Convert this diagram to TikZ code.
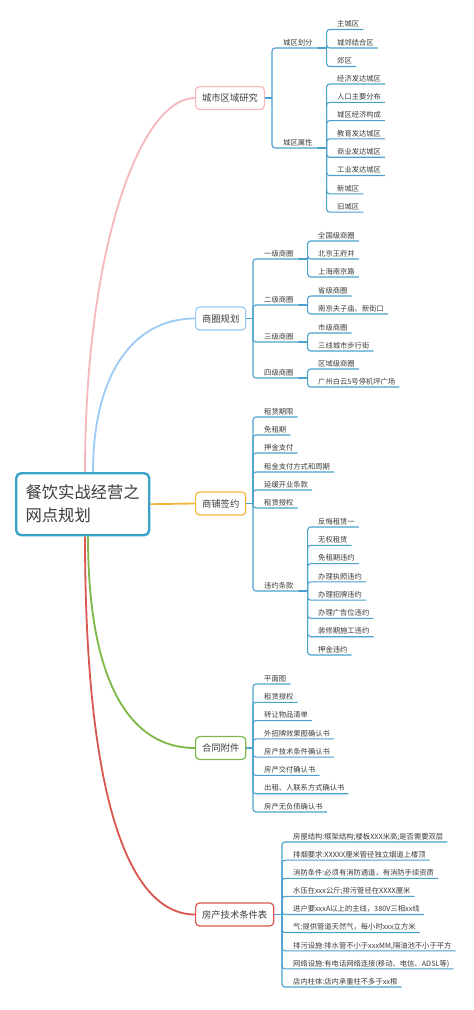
\documentclass[tikz,border=0pt]{standalone}
\usepackage{fontspec}
\setmainfont{Noto Sans CJK SC}
\usetikzlibrary{backgrounds}

\definecolor{rootc}{HTML}{3AA3C8}
\definecolor{cityc}{HTML}{F6B8BD}
\definecolor{circc}{HTML}{9CCBF5}
\definecolor{leasec}{HTML}{F4B63A}
\definecolor{annexc}{HTML}{7DB846}
\definecolor{specc}{HTML}{D9574E}
\definecolor{linkblue}{HTML}{4BA2CE}
\definecolor{txtgray}{HTML}{3C3C3C}

\tikzset{
  leaf/.style={anchor=south west, inner xsep=4pt, inner ysep=2pt, text height=6pt,
    text depth=0.6pt, font=\fontsize{7.3}{8}\selectfont, text=txtgray},
  topic/.style={draw=#1, rounded corners=4pt, line width=1.2pt, fill=white, anchor=west,
    inner xsep=6.5pt, minimum height=23pt, font=\fontsize{9.3}{11}\selectfont, text=txtgray},
  link/.style={draw=linkblue, line width=1.1pt, rounded corners=3pt},
  branch/.style={draw=#1, line width=1.8pt}
}

\begin{document}
\begin{tikzpicture}[x=1pt,y=-1pt]
\useasboundingbox (0,0) rectangle (474,1010);

% ROOT
  \node[draw=rootc, line width=2.4pt, rounded corners=5pt, fill=white, anchor=north west,
    minimum width=133pt, minimum height=62pt, align=left, inner xsep=8pt,
    font=\fontsize{16.3}{23}\selectfont, text=txtgray] (root) at (15,472) {餐饮实战经营之\\网点规划};

% MAIN TOPICS
  \node[topic=cityc]  (city)  at (195,98)    {城市区域研究};
  \node[topic=circc]  (circ)  at (195,318.5) {商圈规划};
  \node[topic=leasec] (lease) at (195,503.5) {商铺签约};
  \node[topic=annexc] (annex) at (195,748)   {合同附件};
  \node[topic=specc]  (spec)  at (195,914.5) {房产技术条件表};

% BRANCHES
\begin{scope}[on background layer]
  \fill[white] (0,0) rectangle (474,1010);
  \draw[branch=cityc]  ([xshift=70pt]root.north west) .. controls +(0,-223) and +(-55,0) .. (city.west);
  \draw[branch=circc]  ([xshift=78pt]root.north west) .. controls +(0,-93) and +(-65,0) .. (circ.west);
  \draw[branch=leasec] (root.east) -- (lease.west);
  \draw[branch=annexc] ([xshift=73pt]root.south west) .. controls +(0,146) and +(-65,0) .. (annex.west);
  \draw[branch=specc]  ([xshift=70pt]root.south west) .. controls +(0,266) and +(-65,0) .. (spec.west);
\end{scope}

% 城市区域研究
  \coordinate (jcity) at (272,98);
  \draw[link] (city.east) -- (jcity);
  \node[leaf] (div)  at (279,48)  {城区划分};
  \node[leaf] (attr) at (279,148) {城区属性};
  \foreach \n in {div,attr} \draw[link] (jcity) |- (\n.south east);

  \coordinate (jdiv) at ([xshift=10pt]div.south east);
  \draw[link] (div.south east) -- (jdiv);
  \foreach \y/\t [count=\i] in {29.5/主城区, 48/城郊结合区, 66.5/郊区}{
    \node[leaf] (div\i) at (333,\y) {\t};
    \draw[link] (jdiv) |- (div\i.south east);
  }

  \coordinate (jattr) at ([xshift=10pt]attr.south east);
  \draw[link] (attr.south east) -- (jattr);
  \foreach \y/\t [count=\i] in {84/经济发达城区, 102.3/人口主要分布, 120.6/城区经济构成, 138.9/教育发达城区,
      157.2/商业发达城区, 175.5/工业发达城区, 193.8/新城区, 212.1/旧城区}{
    \node[leaf] (attr\i) at (333,\y) {\t};
    \draw[link] (jattr) |- (attr\i.south east);
  }

% 商圈规划
  \coordinate (jcirc) at (253,318.5);
  \draw[link] (circ.east) -- (jcirc);
  \foreach \y/\t [count=\i] in {259/一级商圈, 305/二级商圈, 342/三级商圈, 378/四级商圈}{
    \node[leaf] (lv\i) at (260,\y) {\t};
    \draw[link] (jcirc) |- (lv\i.south east);
    \coordinate (jlv\i) at ([xshift=10pt]lv\i.south east);
    \draw[link] (lv\i.south east) -- (jlv\i);
  }
  \foreach \k/\y/\t in {1/241/全国级商圈, 1/259/北京王府井, 1/277/上海南京路,
      2/296/省级商圈, 2/314/南京夫子庙、新街口,
      3/333/市级商圈, 3/351/三线城市步行街,
      4/369/区域级商圈, 4/387/广州白云5号停机坪广场}{
    \node[leaf] (sq\y) at (314,\y) {\t};
    \draw[link] (jlv\k) |- (sq\y.south east);
  }

% 商铺签约
  \coordinate (jlease) at (253,503.5);
  \draw[link] (lease.east) -- (jlease);
  \foreach \y/\t [count=\i] in {417/租赁期限, 435/免租期, 453/押金支付, 472/租金支付方式和周期,
      490/延缓开业条款, 508/租赁授权, 591/违约条款}{
    \node[leaf] (ls\i) at (260,\y) {\t};
    \draw[link] (jlease) |- (ls\i.south east);
  }
  \coordinate (jbreach) at ([xshift=10pt]ls7.south east);
  \draw[link] (ls7.south east) -- (jbreach);
  \foreach \y/\t [count=\i] in {527/反悔租赁一, 545.3/无权租赁, 563.6/免租期违约, 581.9/办理执照违约,
      600.1/办理招牌违约, 618.4/办理广告位违约, 636.7/装修期施工违约, 655/押金违约}{
    \node[leaf] (br\i) at (314,\y) {\t};
    \draw[link] (jbreach) |- (br\i.south east);
  }

% 合同附件
  \coordinate (jannex) at (253,748);
  \draw[link] (annex.east) -- (jannex);
  \foreach \y/\t [count=\i] in {684/平面图, 702.3/租赁授权, 720.6/转让物品清单, 738.9/外招牌效果图确认书,
      757.1/房产技术条件确认书, 775.4/房产交付确认书, 793.7/出租、人联系方式确认书, 812/房产无负债确认书}{
    \node[leaf] (ax\i) at (260,\y) {\t};
    \draw[link] (jannex) |- (ax\i.south east);
  }

% 房产技术条件表
  \coordinate (jspec) at (282,914.5);
  \draw[link] (spec.east) -- (jspec);
  \foreach \y/\t [count=\i] in {842/房屋结构:框架结构;楼板XXX米高;是否需要双层,
      860.1/排烟要求:XXXXX厘米管径独立烟道上楼顶,
      878.3/消防条件:必须有消防通道，有消防手续资质,
      896.4/水压在xxx公斤;排污管径在XXXX厘米,
      914.5/进户要xxxA以上的主线，380V三相xx线,
      932.6/气:提供管道天然气，每小时xxx立方米,
      950.8/{排污设施:排水管不小于xxxMM,隔油池不小于平方},
      968.9/网络设施:有电话网络连接(移动、电信、ADSL等),
      987/店内柱体:店内承重柱不多于xx根}{
    \node[leaf] (sp\i) at (289,\y) {\t};
    \draw[link] (jspec) |- (sp\i.south east);
  }
\end{tikzpicture}
\end{document}
